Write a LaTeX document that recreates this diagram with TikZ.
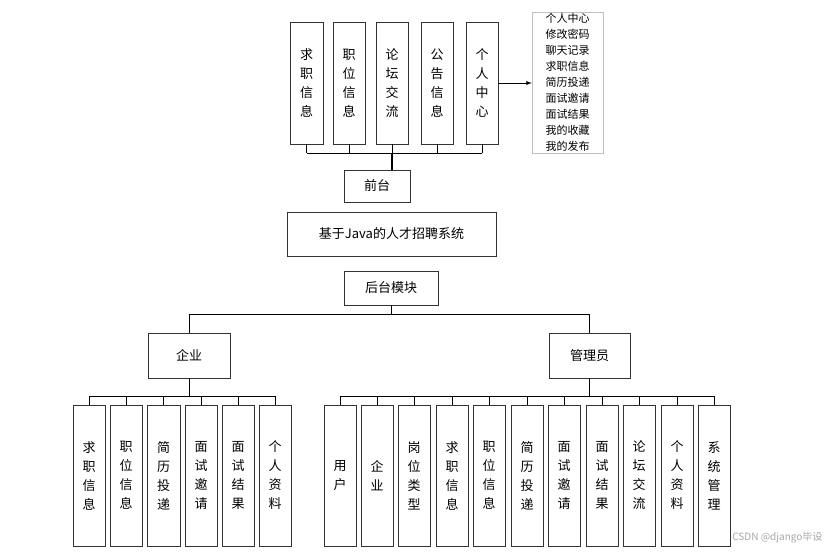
\documentclass[tikz,border=0pt]{standalone}
\usepackage{fontspec}
\setmainfont{Noto Sans CJK SC}
\begin{document}
\begin{tikzpicture}[x=1pt,y=-1pt,
 bx/.style={draw=black!80,line width=0.9pt,fill=white,inner sep=0pt,font=\fontsize{13}{19}\selectfont,align=center},
 ln/.style={line width=0.9pt}]
\useasboundingbox (0,0) rectangle (840,554);
\def\vb#1#2#3#4#5#6{\node[bx,minimum width={(#3-#2)*1pt},minimum height={(#5-#4)*1pt}] (#1) at ({(#2+#3)/2},{(#4+#5)/2}) {#6};}
% top
\vb{t1}{290}{323}{22}{144}{求\\职\\信\\息}
\vb{t2}{333}{365}{22}{144}{职\\位\\信\\息}
\vb{t3}{376}{408}{22}{144}{论\\坛\\交\\流}
\vb{t4}{421}{453}{22}{144}{公\\告\\信\\息}
\vb{t5}{466}{498}{22}{144}{个\\人\\中\\心}
\node[draw=black!25,fill=white,inner sep=0pt,minimum width=71pt,minimum height=141pt,align=left,font=\fontsize{11}{16}\selectfont] (lst) at (567.5,82.5) {个人中心\\修改密码\\聊天记录\\求职信息\\简历投递\\面试邀请\\面试结果\\我的收藏\\我的发布};
\draw[ln,-latex] (t5.east) ++(0,0) -- (lst.west |- t5.east);
\vb{qt}{344}{410}{170}{202}{前台}
\vb{sys}{287}{496}{212}{256}{基于Java的人才招聘系统}
\vb{ht}{344}{438}{271}{305}{后台模块}
\vb{qy}{148}{230}{333}{378}{企业}
\vb{gl}{549}{630}{333}{378}{管理员}
\coordinate (tb) at (392,153);
\foreach \n in {t1,t2,t3,t4,t5} \draw[ln] (\n.south) -- (\n.south |- tb);
\draw[ln] (t1.south |- tb) -- (t5.south |- tb);
\draw[line width=1.5pt] (tb) -- (tb |- qt.north);
\draw[ln] (ht.south) -- (391,314) coordinate (mb);
\draw[ln] (qy.north) -- (qy.north |- mb) -- (gl.north |- mb) -- (gl.north);
% left children
\coordinate (lb) at (0,396);
\vb{a1}{73}{105}{405}{546}{求\\职\\信\\息}
\vb{a2}{110}{142}{405}{546}{职\\位\\信\\息}
\vb{a3}{147}{180}{405}{546}{简\\历\\投\\递}
\vb{a4}{185}{217}{405}{546}{面\\试\\邀\\请}
\vb{a5}{222}{254}{405}{546}{面\\试\\结\\果}
\vb{a6}{259}{291}{405}{546}{个\\人\\资\\料}
\foreach \n in {a1,a2,a3,a4,a5,a6} \draw[ln] (\n.north) -- (\n.north |- lb);
\draw[ln] (a1.north |- lb) -- (a6.north |- lb);
\draw[ln] (qy.south) -- (qy.south |- lb);
\vb{b1}{324}{356}{405}{546}{用\\户}
\vb{b2}{361}{393}{405}{546}{企\\业}
\vb{b3}{398}{430}{405}{546}{岗\\位\\类\\型}
\vb{b4}{436}{468}{405}{546}{求\\职\\信\\息}
\vb{b5}{473}{505}{405}{546}{职\\位\\信\\息}
\vb{b6}{511}{543}{405}{546}{简\\历\\投\\递}
\vb{b7}{548}{580}{405}{546}{面\\试\\邀\\请}
\vb{b8}{586}{618}{405}{546}{面\\试\\结\\果}
\vb{b9}{623}{655}{405}{546}{论\\坛\\交\\流}
\vb{b10}{661}{693}{405}{546}{个\\人\\资\\料}
\vb{b11}{698}{730}{405}{546}{系\\统\\管\\理}
\foreach \n in {b1,b2,b3,b4,b5,b6,b7,b8,b9,b10,b11} \draw[ln] (\n.north) -- (\n.north |- lb);
\draw[ln] (b1.north |- lb) -- (b11.north |- lb);
\draw[ln] (gl.south) -- (gl.south |- lb);
\node[text=black!35,font=\fontsize{10}{12}\selectfont,anchor=east] (wm) at (826,538) {CSDN @django毕设};
\end{tikzpicture}
\end{document}
